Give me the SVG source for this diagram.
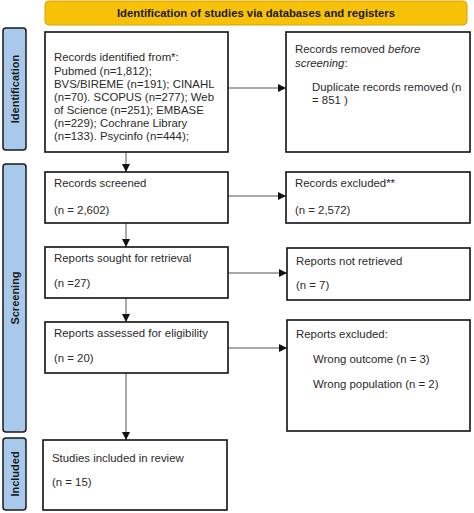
<svg xmlns="http://www.w3.org/2000/svg" width="474" height="513" viewBox="0 0 474 513">
<style>
.box{fill:#fff;stroke:#111;stroke-width:1.6}
.side{fill:#a9c9ec;stroke:#1a1a1a;stroke-width:1.5}
.t{font-family:"Liberation Sans",Arial,sans-serif;font-size:11.4px;fill:#2a2a2a}
.st{font-family:"Liberation Sans",Arial,sans-serif;font-size:11px;font-weight:bold;fill:#1a1a1a}
.conn{stroke:#555;stroke-width:1;fill:none;marker-end:url(#ah)}
</style>
<defs>
<marker id="ah" viewBox="0 0 10 10" refX="10" refY="5" markerWidth="8" markerHeight="8" markerUnits="userSpaceOnUse" orient="auto">
<path d="M0,0 L10,5 L0,10 z" fill="#111"/>
</marker>
</defs>
<rect width="474" height="513" fill="#fff"/>
<g id="header">
<rect x="45" y="1" width="422" height="24" rx="4" fill="#f7c108" stroke="#d9a400" stroke-width="1"/>
<text class="st" x="256" y="17" text-anchor="middle" style="font-size:11.3px">Identification of studies via databases and registers</text>
</g>
<g id="side-identification">
<rect class="side" x="3" y="28" width="23" height="122" rx="3"/>
<text class="st" transform="translate(18.5,89) rotate(-90)" text-anchor="middle">Identification</text>
</g>
<g id="side-screening">
<rect class="side" x="3" y="164" width="23" height="268" rx="3"/>
<text class="st" transform="translate(18.5,298) rotate(-90)" text-anchor="middle">Screening</text>
</g>
<g id="side-included">
<rect class="side" x="3" y="438" width="23" height="72" rx="3"/>
<text class="st" transform="translate(18.5,474) rotate(-90)" text-anchor="middle">Included</text>
</g>
<g id="connectors">
<line class="conn" x1="228" y1="88" x2="286" y2="88"/>
<line class="conn" x1="126" y1="152" x2="126" y2="172"/>
<line class="conn" x1="228" y1="196" x2="286" y2="196"/>
<line class="conn" x1="126" y1="223" x2="126" y2="247"/>
<line class="conn" x1="228" y1="273" x2="287" y2="273"/>
<line class="conn" x1="126" y1="298" x2="126" y2="322"/>
<line class="conn" x1="228" y1="348" x2="287" y2="348"/>
<line class="conn" x1="126" y1="373" x2="126" y2="440"/>
</g>
<g id="records-identified">
<rect class="box" x="45" y="32" width="183" height="120"/>
<text class="t" x="54" y="61">Records identified from*:</text>
<text class="t" x="54" y="75">Pubmed (n=1,812);</text>
<text class="t" x="54" y="88">BVS/BIREME  (n=191); CINAHL</text>
<text class="t" x="54" y="101">(n=70). SCOPUS (n=277); Web</text>
<text class="t" x="54" y="114">of Science (n=251); EMBASE</text>
<text class="t" x="54" y="127">(n=229); Cochrane Library</text>
<text class="t" x="54" y="140">(n=133). Psycinfo  (n=444);</text>
</g>
<g id="records-removed">
<rect class="box" x="286" y="32" width="184" height="120"/>
<text class="t" x="295" y="53">Records removed <tspan font-style="italic">before</tspan></text>
<text class="t" x="295" y="67"><tspan font-style="italic">screening</tspan>:</text>
<text class="t" x="312" y="91">Duplicate records removed (n</text>
<text class="t" x="312" y="104">= 851 )</text>
</g>
<g id="records-screened">
<rect class="box" x="45" y="172" width="183" height="51"/>
<text class="t" x="54" y="187">Records screened</text>
<text class="t" x="54" y="214">(n = 2,602)</text>
</g>
<g id="records-excluded">
<rect class="box" x="286" y="172" width="184" height="51"/>
<text class="t" x="295" y="187">Records excluded**</text>
<text class="t" x="295" y="214">(n = 2,572)</text>
</g>
<g id="reports-sought">
<rect class="box" x="45" y="247" width="183" height="51"/>
<text class="t" x="54" y="262">Reports sought for retrieval</text>
<text class="t" x="54" y="287">(n =27)</text>
</g>
<g id="reports-not-retrieved">
<rect class="box" x="287" y="248" width="183" height="52"/>
<text class="t" x="296" y="265">Reports not retrieved</text>
<text class="t" x="296" y="289">(n = 7)</text>
</g>
<g id="reports-assessed">
<rect class="box" x="45" y="322" width="183" height="51"/>
<text class="t" x="54" y="337">Reports assessed for eligibility</text>
<text class="t" x="54" y="362">(n = 20)</text>
</g>
<g id="reports-excluded">
<rect class="box" x="287" y="320" width="183" height="111"/>
<text class="t" x="296" y="338">Reports excluded:</text>
<text class="t" x="313" y="363">Wrong outcome (n = 3)</text>
<text class="t" x="313" y="388">Wrong population (n = 2)</text>
</g>
<g id="studies-included">
<rect class="box" x="43" y="440" width="184" height="70"/>
<text class="t" x="52" y="462">Studies included in review</text>
<text class="t" x="52" y="486">(n = 15)</text>
</g>
</svg>
